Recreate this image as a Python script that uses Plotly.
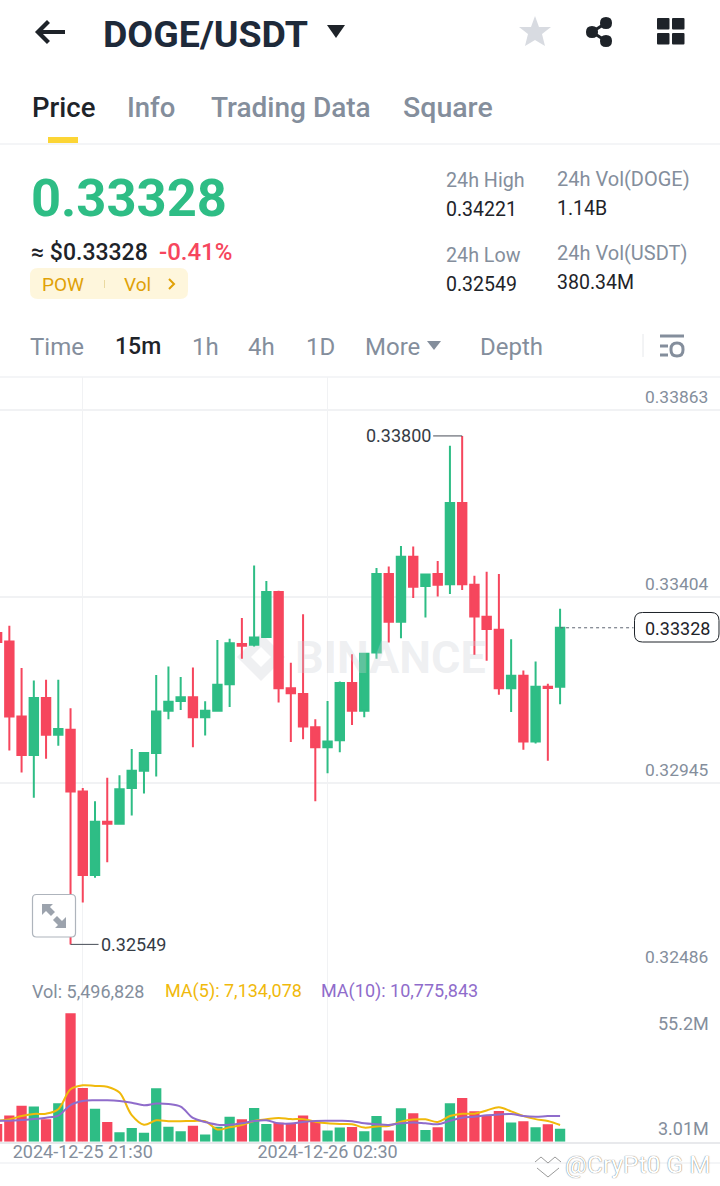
import pandas as pd
import plotly.graph_objects as go

# Candles, 15 minute bars, first bar 2024-12-25 19:45
times = pd.date_range("2024-12-25 19:45", periods=47, freq="15min")
opens = [0.33315, 0.33294, 0.33110, 0.33015, 0.33155, 0.33065, 0.33077, 0.32925, 0.32720, 0.32851,
         0.32846, 0.32934, 0.32976, 0.33020, 0.33124, 0.33148, 0.33157, 0.33108, 0.33124, 0.33189,
         0.33288, 0.33286, 0.33305, 0.33416, 0.33179, 0.33165, 0.33083, 0.33034, 0.33051, 0.33192,
         0.33124, 0.33267, 0.33460, 0.33343, 0.33503, 0.33431, 0.33460, 0.33435, 0.33635, 0.33434,
         0.33355, 0.33323, 0.33179, 0.33210, 0.33048, 0.33183, 0.33183]
highs = [0.33330, 0.33333, 0.33229, 0.33198, 0.33200, 0.33200, 0.33130, 0.32934, 0.32901, 0.32959,
         0.32965, 0.33030, 0.33020, 0.33212, 0.33233, 0.33207, 0.33230, 0.33147, 0.33298, 0.33301,
         0.33352, 0.33481, 0.33443, 0.33419, 0.33242, 0.33361, 0.33103, 0.33148, 0.33196, 0.33263,
         0.33264, 0.33475, 0.33479, 0.33529, 0.33528, 0.33459, 0.33492, 0.33776, 0.33800, 0.33456,
         0.33466, 0.33460, 0.33300, 0.33223, 0.33245, 0.33190, 0.33375]
lows = [0.33280, 0.33026, 0.32972, 0.32910, 0.33006, 0.33038, 0.32549, 0.32652, 0.32713, 0.32751,
        0.32846, 0.32866, 0.32920, 0.32962, 0.33103, 0.33126, 0.33034, 0.33063, 0.33124, 0.33133,
        0.33252, 0.33282, 0.33305, 0.33144, 0.33047, 0.33054, 0.32901, 0.32970, 0.33022, 0.33089,
        0.33108, 0.33252, 0.33292, 0.33302, 0.33401, 0.33353, 0.33405, 0.33411, 0.33421, 0.33261,
        0.33247, 0.33163, 0.33121, 0.33028, 0.33043, 0.33001, 0.33140]
closes = [0.33293, 0.33110, 0.33015, 0.33155, 0.33065, 0.33079, 0.32925, 0.32720, 0.32851, 0.32846,
          0.32931, 0.32976, 0.33020, 0.33122, 0.33146, 0.33157, 0.33108, 0.33124, 0.33188, 0.33290,
          0.33284, 0.33304, 0.33416, 0.33179, 0.33167, 0.33085, 0.33034, 0.33048, 0.33192, 0.33124,
          0.33264, 0.33460, 0.33343, 0.33503, 0.33429, 0.33459, 0.33434, 0.33635, 0.33435, 0.33356,
          0.33325, 0.33179, 0.33210, 0.33048, 0.33183, 0.33180, 0.33328]

# Volume and moving averages, in millions
volumes = [7.5, 11.1, 15.3, 15.0, 9.5, 16.3, 54.6, 22.8, 14.0, 8.4, 4.0, 5.8, 3.8, 22.7, 6.4, 4.4,
           6.8, 3.1, 6.4, 10.6, 9.5, 14.3, 7.5, 8.1, 7.8, 11.1, 8.5, 4.8, 6.0, 6.2, 4.4, 10.9, 4.8,
           14.2, 12.1, 5.0, 6.1, 16.3, 18.6, 12.9, 11.1, 13.0, 8.2, 8.7, 6.1, 7.4, 5.5]
ma5 = [8.9, 9.5, 10.9, 11.8, 11.9, 13.8, 22.3, 24.0, 23.7, 23.4, 20.9, 11.3, 7.2, 9.1, 8.7, 8.7,
       8.8, 8.7, 5.2, 6.1, 7.1, 8.8, 9.5, 10.1, 9.6, 9.6, 8.5, 7.8, 7.5, 7.4, 6.0, 6.5, 6.7, 8.5,
       9.4, 9.5, 8.4, 10.9, 11.9, 11.9, 13.3, 14.6, 12.9, 10.9, 9.6, 8.8, 7.1]
ma10 = [8.9, 8.9, 9.2, 9.6, 10.2, 11.1, 15.6, 17.3, 17.6, 17.6, 17.3, 16.6, 15.5, 16.2, 16.0, 14.9,
        10.1, 8.4, 7.2, 7.2, 7.8, 8.8, 9.1, 7.8, 7.7, 8.4, 8.8, 8.9, 8.9, 8.7, 7.8, 7.4, 7.1, 7.8,
        8.2, 7.8, 7.4, 8.9, 10.2, 10.6, 11.2, 11.6, 11.8, 10.9, 10.6, 10.9, 10.9]

price_ticks = [0.33863, 0.33404, 0.32945, 0.32486]
date_ticks = [times[7], times[27]]
last_price = closes[-1]

GREEN = "#2EBD85"
RED = "#F6465D"
GREY = "#848E9C"
DARK = "#1E2329"
LINE = "#F1F2F4"
W, H = 720, 1186


def px(x, y):
    return f"{x / W:.5f},{1 - y / H:.5f}"


def path(points, close=True):
    return "M" + " L".join(px(x, y) for x, y in points) + (" Z" if close else "")


def round_rect(x0, y0, x1, y1, r):
    return (f"M{px(x0 + r, y0)} L{px(x1 - r, y0)} Q{px(x1, y0)} {px(x1, y0 + r)} L{px(x1, y1 - r)} "
            f"Q{px(x1, y1)} {px(x1 - r, y1)} L{px(x0 + r, y1)} Q{px(x0, y1)} {px(x0, y1 - r)} "
            f"L{px(x0, y0 + r)} Q{px(x0, y0)} {px(x0 + r, y0)} Z")


shapes = []
annotations = []


def add_shape(d, fill=None, line=None, width=0, layer="above"):
    shapes.append(dict(type="path", path=d, xref="paper", yref="paper", layer=layer,
                       fillcolor=fill if fill else "rgba(0,0,0,0)",
                       line=dict(color=line if line else "rgba(0,0,0,0)", width=width)))


def add_text(x, y, text, size, color=GREY, anchor="left", family="Roboto", **font):
    annotations.append(dict(x=x / W, y=1 - y / H, xref="paper", yref="paper", text=text, showarrow=False,
                            xanchor=anchor, yanchor="middle", borderpad=0,
                            font=dict(size=size, color=color, family=family, **font)))


fig = go.Figure()
fig.add_trace(go.Candlestick(
    x=times, open=opens, high=highs, low=lows, close=closes, xaxis="x", yaxis="y", whiskerwidth=0,
    increasing=dict(line=dict(color=GREEN, width=2), fillcolor=GREEN),
    decreasing=dict(line=dict(color=RED, width=2), fillcolor=RED),
))
# dashed line from the last candle out to the price box
fig.add_trace(go.Scatter(x=[times[-1], times[0] + pd.Timedelta(minutes=15 * 52)], y=[last_price, last_price],
                         mode="lines", line=dict(color="#5E6673", width=1, dash="3px,3px"),
                         xaxis="x", yaxis="y", hoverinfo="skip"))
fig.add_trace(go.Bar(x=times, y=volumes, marker=dict(color=[GREEN if c >= o else RED for o, c in zip(opens, closes)], line=dict(width=0)),
                     xaxis="x2", yaxis="y2"))
fig.add_trace(go.Scatter(x=times, y=ma5, mode="lines", line=dict(color="#F0B90B", width=2, shape="spline"), xaxis="x2", yaxis="y2"))
fig.add_trace(go.Scatter(x=times, y=ma10, mode="lines", line=dict(color="#8F6CCB", width=2, shape="spline"), xaxis="x2", yaxis="y2"))

# header
add_shape(path([(35, 32), (47, 20), (50, 23), (43, 30), (65, 30), (65, 34), (43, 34), (50, 41), (47, 44)]), fill=DARK)
add_text(102, 34, "DOGE/USDT", 37.5, "#1E2A3A", weight=700)
add_shape(path([(327, 25), (345, 25), (336, 38)]), fill=DARK)
add_shape(path([(535, 16), (539, 27), (551, 27), (542, 34), (545, 46), (535, 40), (525, 46), (528, 34), (519, 27), (531, 27)]), fill="#D8DBE1")
add_shape(path([(606, 23), (592, 32), (606, 41)], close=False), line=DARK, width=3)
for cx, cy in [(606, 23), (592, 32), (606, 41)]:
    add_shape(round_rect(cx - 6, cy - 6, cx + 6, cy + 6, 6), fill=DARK)
for x0, y0 in [(657, 18), (672, 18), (657, 33), (672, 33)]:
    add_shape(round_rect(x0, y0, x0 + 12.5, y0 + 11.5, 1), fill=DARK)

# tabs
add_text(31, 108, "Price", 27.5, DARK, weight=500)
add_text(126, 108, "Info", 27.5, GREY, weight=500)
add_text(210, 108, "Trading Data", 28, GREY, weight=500)
add_text(402, 108, "Square", 28.5, GREY, weight=500)
add_shape(path([(48, 137), (78, 137), (78, 143), (48, 143)]), fill="#FCD535")
add_shape(path([(0, 144), (720, 144)], close=False), line=LINE, width=1.5)

# ticker block
add_text(30, 198, "0.33328", 52.5, GREEN, weight=700)
add_text(30, 252, "≈ $0.33328", 23, DARK, weight=500)
add_text(158, 252, "-0.41%", 24, RED, weight=500)
add_shape(round_rect(30, 268, 188, 299, 8), fill="#FEF6DC")
add_text(41, 284, "POW", 19, "#E0A106")
add_shape(path([(104.5, 280), (104.5, 288)], close=False), line="#EAD9A0", width=1)
add_text(123, 284, "Vol", 19, "#E0A106")
add_shape(path([(169, 279), (174, 284), (169, 289)], close=False), line="#E0A106", width=2)

add_text(445, 181, "24h High", 19.7)
add_text(445, 209, "0.34221", 19.5, DARK)
add_text(556, 179, "24h Vol(DOGE)", 20)
add_text(556, 208, "1.14B", 19.5, DARK)
add_text(445, 255, "24h Low", 19.7)
add_text(445, 284, "0.32549", 19.5, DARK)
add_text(556, 253, "24h Vol(USDT)", 20)
add_text(556, 282, "380.34M", 19.5, DARK)

# interval bar
add_text(29, 347, "Time", 24)
add_text(114, 347, "15m", 23, DARK, weight=500)
add_text(191, 347, "1h", 24)
add_text(247, 347, "4h", 24)
add_text(305, 347, "1D", 24)
add_text(364, 347, "More", 24)
add_shape(path([(427, 341), (441, 341), (434, 350)]), fill=GREY)
add_text(479, 347, "Depth", 24)
add_shape(path([(643, 334), (643, 357)], close=False), line="#E6E8EB", width=1)
add_shape(path([(660, 336), (684, 336)], close=False), line=GREY, width=3)
add_shape(path([(660, 346), (668, 346)], close=False), line=GREY, width=3)
add_shape(path([(660, 355), (668, 355)], close=False), line=GREY, width=3)
add_shape(round_rect(671, 343, 683, 356, 6), line=GREY, width=3)
add_shape(path([(0, 377), (720, 377)], close=False), line=LINE, width=1.5)

# watermark in the chart
add_shape(path([(261, 633), (285, 657), (261, 681), (237, 657)]), fill="#EFF0F2", layer="below")
add_shape(path([(261, 647), (271, 657), (261, 667), (251, 657)]), fill="#FFFFFF", layer="below")
annotations.append(dict(x=390 / W, y=1 - 657 / H, xref="paper", yref="paper", text="BINANCE", showarrow=False,
                        font=dict(size=45, color="rgba(205,209,215,0.32)", family="Roboto", weight=700)))

# price axis labels sit just above their gridlines
for p in price_ticks:
    annotations.append(dict(x=710 / W, y=p, xref="paper", yref="y", text=f"{p:.5f}", showarrow=False, xanchor="right",
                            yanchor="bottom", yshift=1, font=dict(size=17.4, color=GREY, family="Roboto")))

# high and low markers
annotations.append(dict(x=times[38], y=max(highs), xref="x", yref="y", text=f"{max(highs):.5f}", showarrow=True, arrowhead=0,
                        arrowwidth=1, arrowcolor="#474D57", ax=-29, ay=0, xanchor="right", yanchor="middle",
                        font=dict(size=18, color="#363C45", family="Roboto")))
annotations.append(dict(x=times[6], y=min(lows), xref="x", yref="y", text=f"{min(lows):.5f}", showarrow=True, arrowhead=0,
                        arrowwidth=1, arrowcolor="#474D57", ax=28, ay=0, xanchor="left", yanchor="middle",
                        font=dict(size=18, color="#363C45", family="Roboto")))

# last price box
add_shape(round_rect(634.5, 612.5, 719, 642, 8), fill="#FFFFFF", line=DARK, width=1)
add_text(677, 628, f"{last_price:.5f}", 18, DARK, anchor="center")

# expand button
add_shape(round_rect(32.5, 894.5, 75.5, 937, 4), fill="#FFFFFF", line="#AEB4BC", width=1.2)
add_shape(path([(42, 904), (53, 904), (50, 907), (55, 912), (51, 916), (46, 911), (42, 915)]), fill="#9CA3AD")
add_shape(path([(66, 928), (55, 928), (58, 925), (53, 920), (57, 916), (62, 921), (66, 917)]), fill="#9CA3AD")

# volume header and axis labels
add_text(31, 991, "Vol: 5,496,828", 18)
add_text(164, 991, "MA(5): 7,134,078", 18, "#F0B90B")
add_text(320, 991, "MA(10): 10,775,843", 18, "#8F6CCB")
add_text(710, 1023, "55.2M", 18, anchor="right")
add_text(710, 1128, "3.01M", 18, anchor="right")
add_shape(path([(0, 1163), (720, 1163)], close=False), line=LINE, width=1.5)

# author mark, bottom right
add_shape(path([(535, 1162), (541, 1157), (548, 1163), (555, 1157), (561, 1162)], close=False), line="#9A9A9A", width=1)
add_shape(path([(537, 1168), (548, 1177), (559, 1168)], close=False), line="#9A9A9A", width=1)
annotations.append(dict(x=713 / W, y=1 - 1164 / H, xref="paper", yref="paper", text="@CryPt0 G M", showarrow=False,
                        xanchor="right", yanchor="middle",
                        font=dict(size=24.5, color="#FFFFFF", family="Roboto", shadow="0 0 1px #444")))

x_range = [times[0] + pd.Timedelta(minutes=3.55), times[0] + pd.Timedelta(minutes=886)]
axis_x = dict(type="date", range=x_range, tickmode="array", tickvals=date_ticks, showgrid=True, gridcolor=LINE, gridwidth=1,
              zeroline=False, rangeslider=dict(visible=False), ticks="")

fig.update_layout(
    width=W,
    height=H,
    autosize=False,
    margin=dict(l=0, r=0, t=0, b=0),
    paper_bgcolor="white",
    plot_bgcolor="rgba(0,0,0,0)",
    showlegend=False,
    boxgap=0.17,
    boxgroupgap=0.17,
    bargap=0.16,
    hovermode=False,
    xaxis=dict(axis_x, anchor="y", domain=[0, 1], showticklabels=False),
    xaxis2=dict(axis_x, anchor="y2", domain=[0, 1], showticklabels=True, tickformat="%Y-%m-%d %H:%M", ticklabelstandoff=-7,
                tickfont=dict(size=18, color=GREY, family="Roboto"), showline=True, linecolor="#E8E9EC", linewidth=1.5),
    yaxis=dict(domain=[1 - 970 / H, 1 - 377 / H], range=[0.32486, 0.33945], tickmode="array", tickvals=price_ticks,
               showticklabels=False, gridcolor="#F1F2F4", gridwidth=1.5, zeroline=False, anchor="x"),
    yaxis2=dict(domain=[1 - 1141.7 / H, 1 - 970 / H], range=[0, 73], showgrid=False, showticklabels=False,
                zeroline=False, anchor="x2"),
    shapes=shapes,
    annotations=annotations,
)

# drop the default page margin so the figure fills the window
fig.write_html("out.html", config=dict(displayModeBar=False),
               post_script="document.body.style.margin='0';document.documentElement.style.overflow='hidden';")
